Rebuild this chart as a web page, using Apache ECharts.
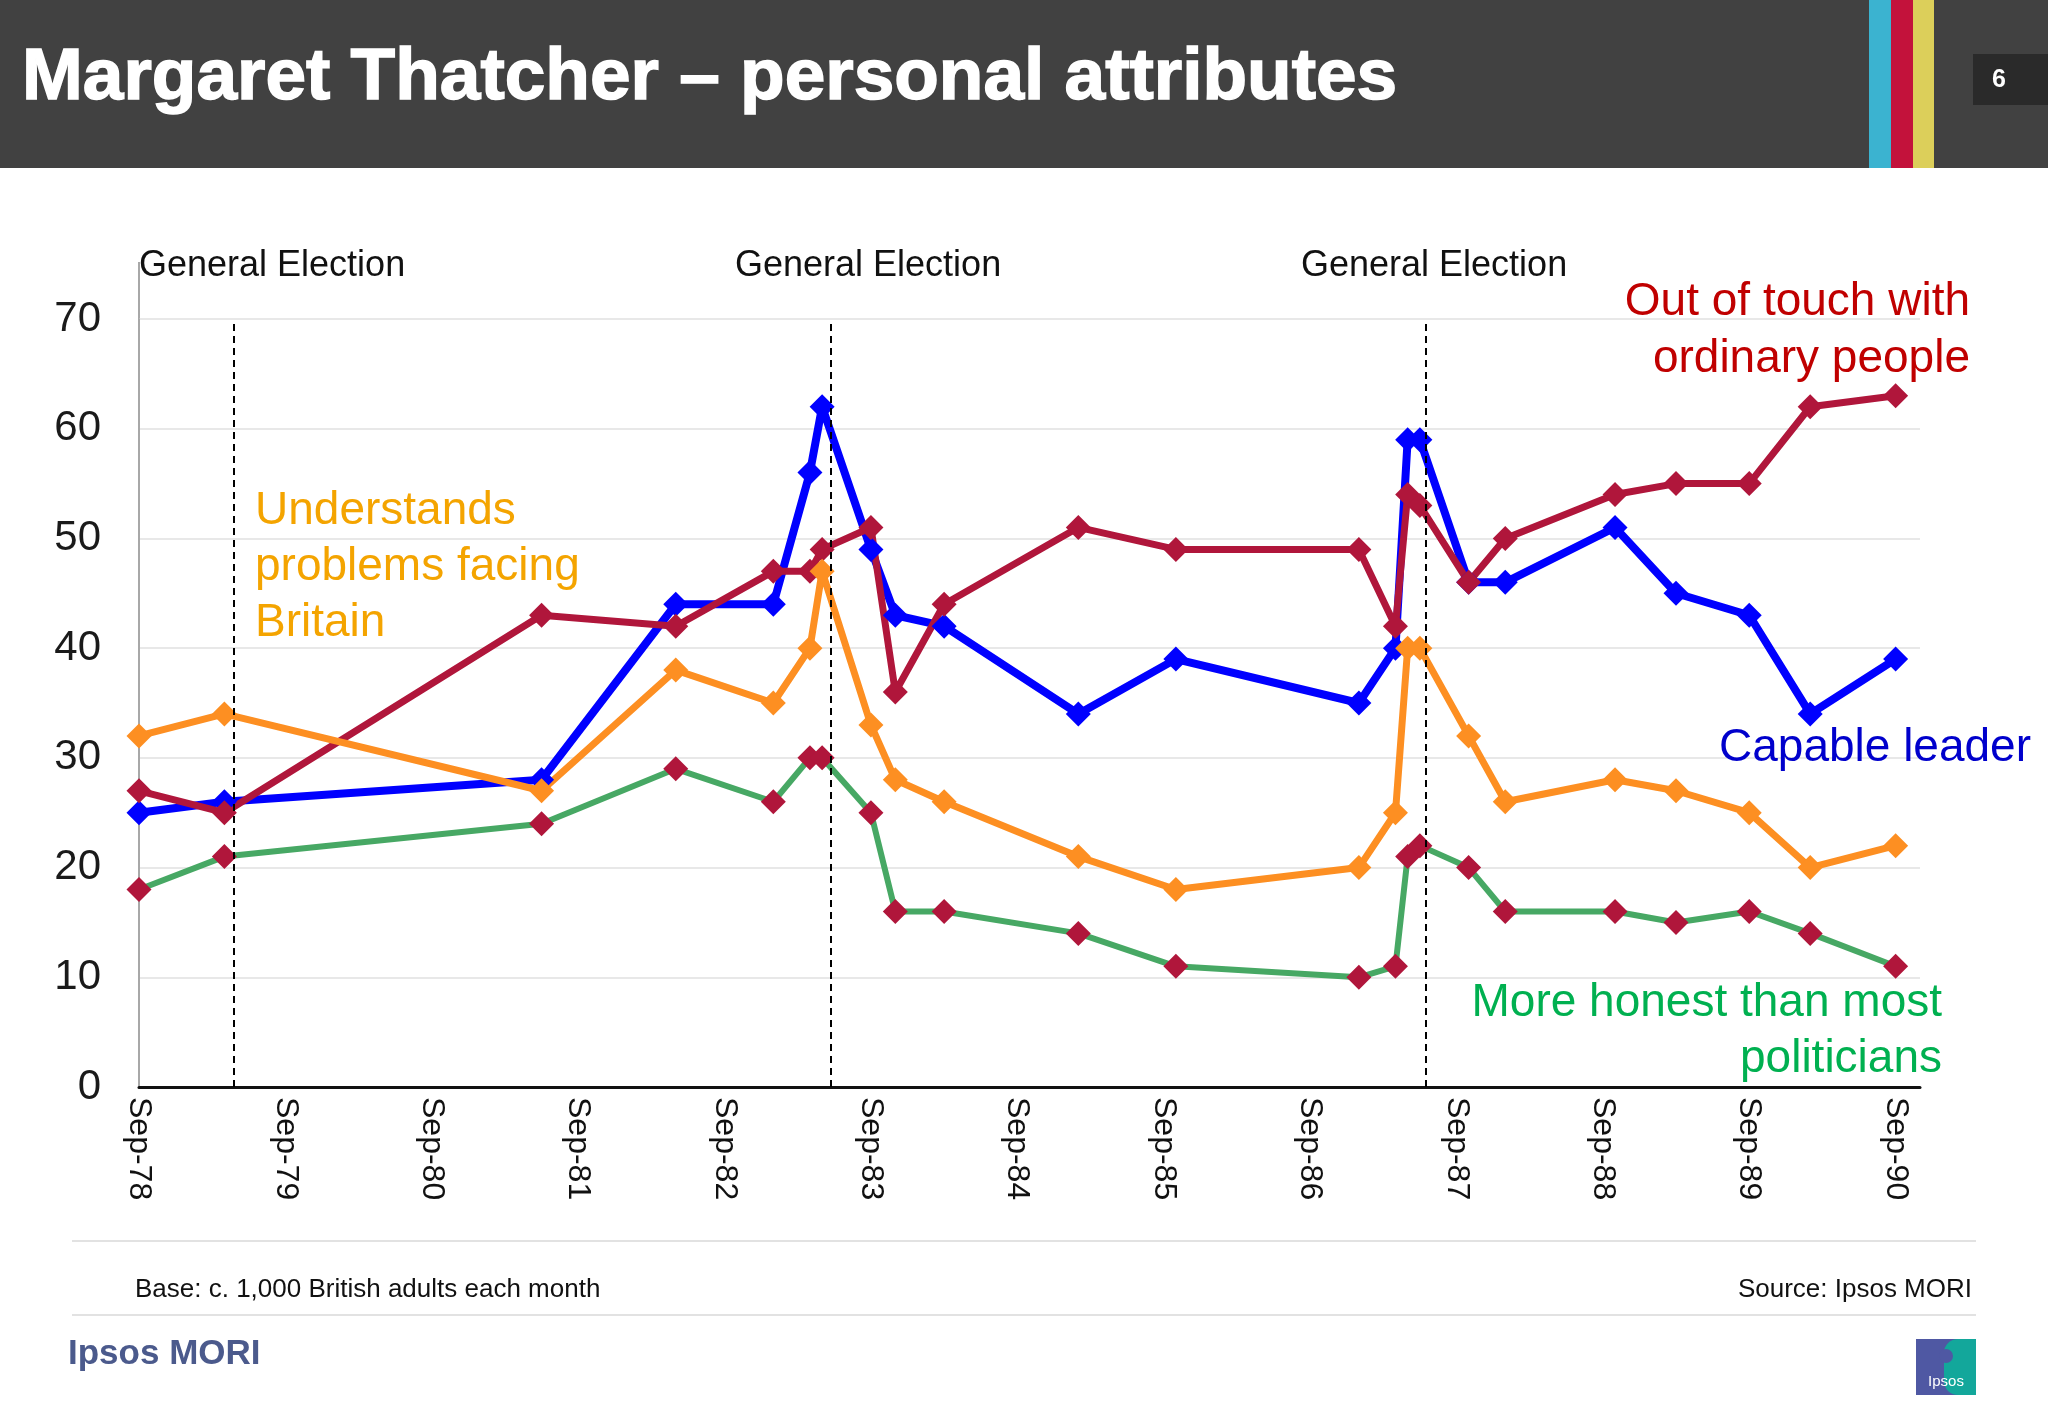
<!DOCTYPE html>
<html lang="en">
<head>
    <meta charset="UTF-8">
    <title>Margaret Thatcher – personal attributes</title>
    <style>
        html, body { margin: 0; padding: 0; background: #ffffff; }
        #chart { width: 2048px; height: 1418px; }
    </style>
</head>
<body>
    <div id="chart"></div>
    <script src="https://cdn.jsdelivr.net/npm/echarts@6/dist/echarts.min.js"></script>
    <script>
        // months counted from Sep-78 (0) for every poll
        const pollMonths = [0, 7, 33, 44, 52, 55, 56, 60, 62, 66, 77, 85, 100, 103, 104, 105, 109, 112, 121, 126, 132, 137, 144];

        // series values (%)
        const capableLeader = [25, 26, 28, 44, 44, 56, 62, 49, 43, 42, 34, 39, 35, 40, 59, 59, 46, 46, 51, 45, 43, 34, 39];
        const outOfTouch = [27, 25, 43, 42, 47, 47, 49, 51, 36, 44, 51, 49, 49, 42, 54, 53, 46, 50, 54, 55, 55, 62, 63];
        const understandsProblems = [32, 34, 27, 38, 35, 40, 47, 33, 28, 26, 21, 18, 20, 25, 40, 40, 32, 26, 28, 27, 25, 20, 22];
        const moreHonest = [18, 21, 24, 29, 26, 30, 30, 25, 16, 16, 14, 11, 10, 11, 21, 22, 20, 16, 16, 15, 16, 14, 11];

        // x tick labels, one every 12 months
        const tickLabels = ['Sep-78', 'Sep-79', 'Sep-80', 'Sep-81', 'Sep-82', 'Sep-83', 'Sep-84',
            'Sep-85', 'Sep-86', 'Sep-87', 'Sep-88', 'Sep-89', 'Sep-90'];

        // general elections (months from Sep-78)
        const elections = [7.8, 56.7, 105.5];

        const FONT = 'Liberation Sans, Arial, sans-serif';
        const chart = echarts.init(document.getElementById('chart'));

        const pairs = (vals) => pollMonths.map((m, i) => [m, vals[i]]);

        const lineSeries = (name, vals, lineColor, markerColor, width) => ({
            name: name,
            type: 'line',
            data: pairs(vals),
            symbol: 'diamond',
            symbolSize: 25,
            showAllSymbol: true,
            lineStyle: { color: lineColor, width: width },
            itemStyle: { color: markerColor },
            silent: true,
            animation: false
        });

        const greenSeries = lineSeries('More honest than most politicians', moreHonest, '#47a864', '#b0163b', 6);
        greenSeries.markLine = {
            silent: true,
            symbol: 'none',
            label: { show: false },
            lineStyle: { color: '#000', width: 2, type: [7, 5] },
            data: elections.map(e => ({ xAxis: e }))
        };

        // caption text helper, drawn above the plot
        const caption = (x, y, text, color, align, vAlign, size, lh) => ({
            type: 'text', x: x, y: y, z: 100,
            style: {
                text: text, fill: color, font: size + 'px ' + FONT,
                lineHeight: lh, textAlign: align, textVerticalAlign: vAlign
            }
        });

        chart.setOption({
            animation: false,
            backgroundColor: '#ffffff',
            grid: {
                left: 139, right: 128, top: 319, bottom: 331,
                containLabel: false,
                outerBoundsMode: 'none'
            },
            xAxis: {
                type: 'value',
                min: 0,
                max: 146,
                interval: 12,
                axisLine: { show: true, lineStyle: { color: '#111', width: 3 } },
                axisTick: { show: false },
                splitLine: { show: false },
                axisLabel: {
                    rotate: -90,
                    margin: 10,
                    fontSize: 32,
                    fontFamily: FONT,
                    color: '#111',
                    showMaxLabel: false,
                    formatter: v => (v % 12 === 0 ? (tickLabels[v / 12] || '') : '')
                }
            },
            yAxis: {
                type: 'value',
                min: 0,
                max: 70,
                interval: 10,
                axisLine: { show: true, lineStyle: { color: '#a8a8a8', width: 2 } },
                axisTick: { show: false },
                splitLine: { show: true, lineStyle: { color: '#e8e8e8', width: 2 } },
                axisLabel: { fontSize: 42, fontFamily: FONT, color: '#1a1a1a', margin: 38 }
            },
            series: [
                greenSeries,
                lineSeries('Capable leader', capableLeader, '#0000ff', '#0000ff', 8),
                lineSeries('Out of touch with ordinary people', outOfTouch, '#b0163b', '#b0163b', 7),
                lineSeries('Understands problems facing Britain', understandsProblems, '#fd8f22', '#fd8f22', 7)
            ],
            graphic: [
                // header band
                { type: 'rect', left: 0, top: 0, shape: { width: 2048, height: 168 }, style: { fill: '#414141' }, z: 10 },
                { type: 'rect', left: 1869, top: 0, shape: { width: 22, height: 168 }, style: { fill: '#3bb3d0' }, z: 11 },
                { type: 'rect', left: 1891, top: 0, shape: { width: 22, height: 168 }, style: { fill: '#c3123b' }, z: 11 },
                { type: 'rect', left: 1913, top: 0, shape: { width: 21, height: 168 }, style: { fill: '#dccf5a' }, z: 11 },
                { type: 'rect', left: 1973, top: 54, shape: { width: 75, height: 51 }, style: { fill: '#2a2a2a' }, z: 11 },
                {
                    type: 'text', x: 1999, y: 80, z: 12,
                    style: { text: '6', fill: '#fff', font: 'bold 25px ' + FONT, textAlign: 'center', textVerticalAlign: 'middle' }
                },
                {
                    type: 'text', x: 22, y: 79, z: 12,
                    style: {
                        text: 'Margaret Thatcher – personal attributes', fill: '#fff', stroke: '#fff', lineWidth: 1.5,
                        font: 'bold 73px ' + FONT, textAlign: 'left', textVerticalAlign: 'middle'
                    }
                },

                // y axis line running up to the election captions
                { type: 'line', shape: { x1: 139, y1: 262, x2: 139, y2: 320 }, style: { stroke: '#a8a8a8', lineWidth: 2 } },

                // election captions
                caption(139, 266, 'General Election', '#111', 'left', 'middle', 36),
                caption(735, 266, 'General Election', '#111', 'left', 'middle', 36),
                caption(1301, 266, 'General Election', '#111', 'left', 'middle', 36),

                // series captions
                caption(255, 483, 'Understands\nproblems facing\nBritain', '#f4a400', 'left', 'top', 46, 56),
                caption(1970, 274, 'Out of touch with\nordinary people', '#c00000', 'right', 'top', 46, 57),
                caption(2031, 748, 'Capable leader', '#0000cc', 'right', 'middle', 46),
                caption(1942, 975, 'More honest than most\npoliticians', '#00b050', 'right', 'top', 46, 56),

                // footer
                { type: 'line', shape: { x1: 72, y1: 1241, x2: 1976, y2: 1241 }, style: { stroke: '#e2e2e2', lineWidth: 2 } },
                { type: 'line', shape: { x1: 72, y1: 1315, x2: 1976, y2: 1315 }, style: { stroke: '#e2e2e2', lineWidth: 2 } },
                caption(135, 1290, 'Base: c. 1,000 British adults each month', '#111', 'left', 'middle', 26),
                caption(1972, 1290, 'Source: Ipsos MORI', '#111', 'right', 'middle', 26),
                { type: 'text', x: 68, y: 1354, style: { text: 'Ipsos MORI', fill: '#4b5a8c', font: 'bold 35px ' + FONT, textVerticalAlign: 'middle' } },

                // logo
                { type: 'rect', left: 1916, top: 1339, shape: { width: 60, height: 56 }, style: { fill: '#4f58a3' } },
                { type: 'rect', left: 1944, top: 1339, shape: { width: 32, height: 56, r: [14, 0, 0, 14] }, style: { fill: '#13a79b' } },
                { type: 'circle', shape: { cx: 1946, cy: 1356, r: 7 }, style: { fill: '#4f58a3' } },
                { type: 'text', x: 1946, y: 1382, style: { text: 'Ipsos', fill: '#fff', font: '15px ' + FONT, textAlign: 'center', textVerticalAlign: 'middle' } }
            ]
        });
    </script>
</body>
</html>
